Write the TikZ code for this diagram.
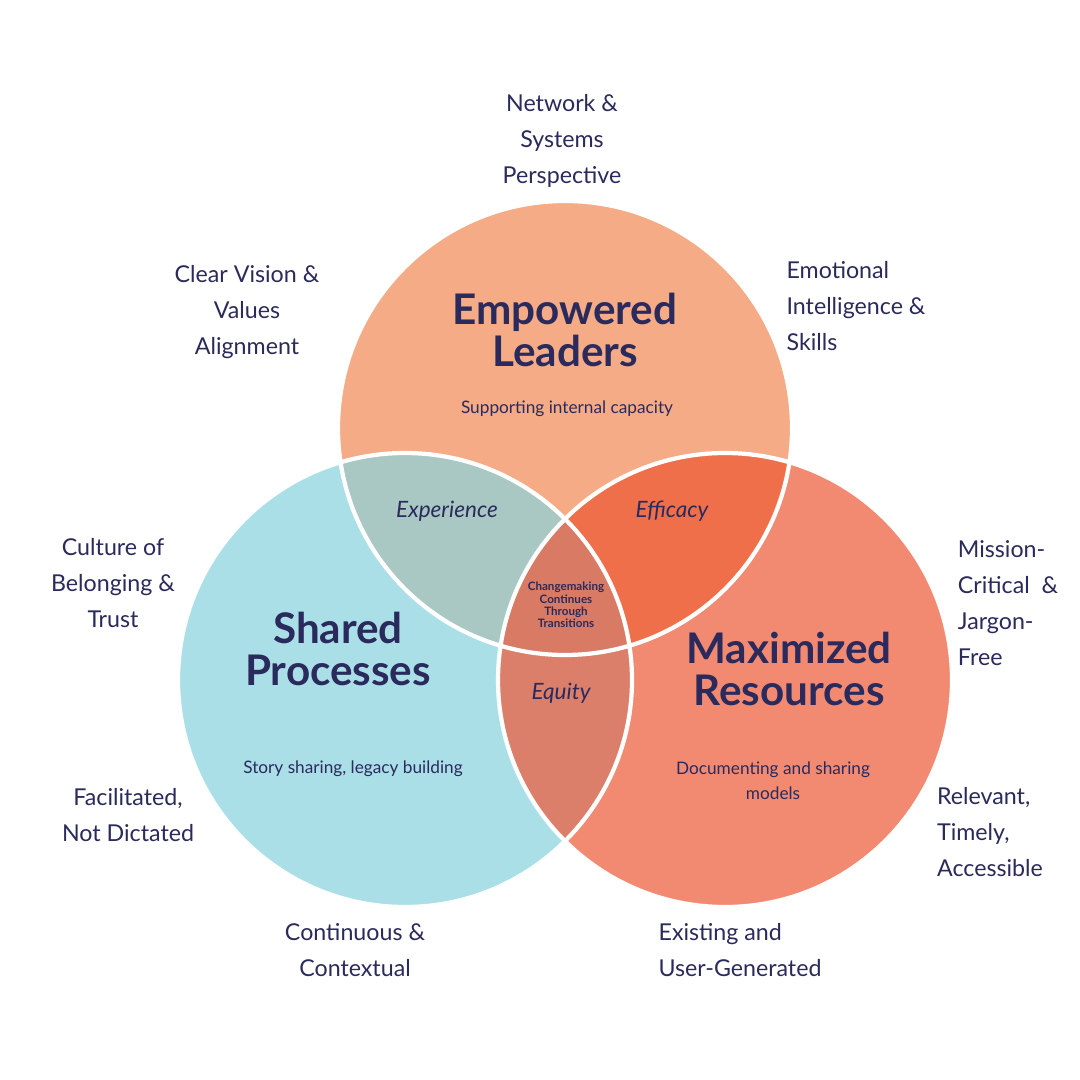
\documentclass[tikz,border=0pt]{standalone}
\usepackage{fontspec}
\setmainfont{Lato}
\definecolor{navy}{HTML}{2A2A5C}
\definecolor{cTop}{HTML}{F4AB86}
\definecolor{cLeft}{HTML}{ABDFE8}
\definecolor{cRight}{HTML}{F28A72}
\definecolor{cTL}{HTML}{A9C7C3}
\definecolor{cTR}{HTML}{F06F4B}
\definecolor{cLR}{HTML}{DC7F6A}
\definecolor{cC}{HTML}{D97A65}
\begin{document}
\begin{tikzpicture}[x=0.01cm,y=-0.01cm,
  lab/.style={text=navy,align=center,font=\fontsize{6.6pt}{10.2pt}\selectfont},
  ttl/.style={text=navy,align=center,font=\bfseries\fontsize{12pt}{12.2pt}\selectfont},
  sub/.style={text=navy,align=center,font=\fontsize{4.9pt}{7.2pt}\selectfont},
  ita/.style={text=navy,font=\itshape\fontsize{6.4pt}{8pt}\selectfont},
  ring/.style={draw=white,line width=1.2pt}]
\useasboundingbox (0,0) rectangle (1080,1080);
\fill[white] (0,0) rectangle (1080,1080);
\coordinate (T) at (565,428);
\coordinate (L) at (405,680);
\coordinate (R) at (725,680);
\def\rr{227}
\fill[cTop] (T) circle (\rr);
\fill[cLeft] (L) circle (\rr);
\fill[cRight] (R) circle (\rr);
\begin{scope}\clip (T) circle (\rr); \fill[cTL] (L) circle (\rr); \fill[cTR] (R) circle (\rr);\end{scope}
\begin{scope}\clip (L) circle (\rr); \fill[cLR] (R) circle (\rr);
  \clip (R) circle (\rr); \fill[cC] (T) circle (\rr);\end{scope}
\draw[ring] (T) circle (\rr) (L) circle (\rr) (R) circle (\rr);
\node[ttl] (t1) at (565,330) {Empowered\\Leaders};
\node[sub] (s1) at (567,409) {Supporting internal capacity};
\node[ttl] (t2) at (338,649) {Shared\\Processes};
\node[sub] (s2) at (353,769) {Story sharing, legacy building};
\node[ttl] (t3) at (789,669) {Maximized\\Resources};
\node[sub] (s3) at (773,781) {Documenting and sharing\\models};
\node[ita] (e1) at (447,511) {Experience};
\node[ita] (e2) at (672,511) {Efficacy};
\node[ita] (e3) at (561,693) {Equity};
\node[text=navy,align=center,font=\bfseries\fontsize{3.3pt}{3.5pt}\selectfont] (cc) at (566,605) {Changemaking\\Continues\\Through\\Transitions};
\node[lab] (o1) at (562,141) {Network \&\\Systems\\Perspective};
\node[lab] (o2) at (247,312) {Clear Vision \&\\Values\\Alignment};
\node[lab,align=left] (o3) at (856,306) {Emotional\\Intelligence \&\\Skills};
\node[lab] (o4) at (113,583) {Culture of\\Belonging \&\\Trust};
\node[lab,align=left] (o5) at (1008,603) {Mission-\\Critical~ \&\\Jargon-\\Free};
\node[lab] (o6) at (128,815) {Facilitated,\\Not Dictated};
\node[lab,align=left] (o7) at (990,832) {Relevant,\\Timely,\\Accessible};
\node[lab] (o8) at (355,950) {Continuous \&\\Contextual};
\node[lab,align=left] (o9) at (740,950) {Existing and\\User-Generated};
\end{tikzpicture}
\end{document}
